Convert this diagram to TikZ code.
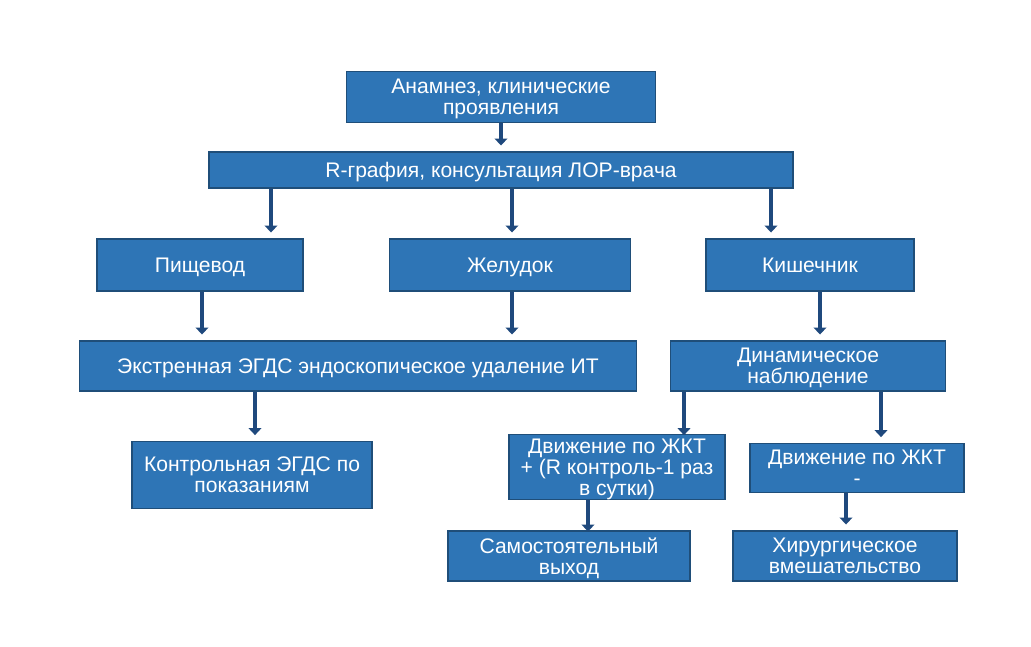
\documentclass[tikz,border=0pt]{standalone}
\usepackage{fontspec}
\setmainfont{Liberation Sans}
\usepackage{xcolor}
\usetikzlibrary{arrows.meta, positioning}

\definecolor{boxblue}{HTML}{2E75B6}
\definecolor{boxedge}{HTML}{1F4E79}
\definecolor{arrblue}{HTML}{1F497D}

\begin{document}
\begin{tikzpicture}[x=0.025cm, y=-0.025cm,
    block/.style={rectangle, draw=boxedge, line width=1.2pt, fill=boxblue, text=white, align=center, inner sep=0pt, text depth=-1pt, font=\fontsize{15}{15}\selectfont},
    arr/.style={draw=arrblue, line width=2.8pt, -{Triangle[width=9pt, length=5pt]}, shorten >=4pt}
]
\useasboundingbox (0,0) rectangle (1031,646);

\node[block, minimum width=7.72cm, minimum height=1.27cm] (anamnez) at (501,97) {Анамнез, клинические\\проявления};
\node[block, minimum width=14.6cm, minimum height=0.9cm] (rgraf) at (501,170) {R-графия, консультация ЛОР-врача};
\node[block, minimum width=5.15cm, minimum height=1.3cm] (pishevod) at (200,265) {Пищевод};
\node[block, minimum width=6.02cm, minimum height=1.3cm] (zheludok) at (510,265) {Желудок};
\node[block, minimum width=5.2cm, minimum height=1.3cm] (kishechnik) at (810,265) {Кишечник};
\node[block, minimum width=13.92cm, minimum height=1.25cm] (egds) at (358,366) {Экстренная ЭГДС эндоскопическое удаление ИТ};
\node[block, minimum width=6.87cm, minimum height=1.25cm] (dinam) at (808,366) {Динамическое\\наблюдение};
\node[block, minimum width=6cm, minimum height=1.67cm] (kontrol) at (252,475) {Контрольная ЭГДС по\\показаниям};
\node[block, minimum width=5.4cm, minimum height=1.62cm] (dvplus) at (617,467) {Движение по ЖКТ\\+ (R контроль-1 раз\\в сутки)};
\node[block, minimum width=5.35cm, minimum height=1.22cm] (dvminus) at (857,468) {Движение по ЖКТ\\-};
\node[block, minimum width=6.05cm, minimum height=1.25cm] (vyhod) at (569,556) {Самостоятельный\\выход};
\node[block, minimum width=5.6cm, minimum height=1.25cm] (hirurg) at (845,556) {Хирургическое\\вмешательство};

\draw[arr] (anamnez) -- (rgraf);
\draw[arr] (rgraf.south -| 271,0) -- (pishevod.north -| 271,0);
\draw[arr] (rgraf.south -| 512,0) -- (zheludok.north -| 512,0);
\draw[arr] (rgraf.south -| 771,0) -- (kishechnik.north -| 771,0);
\draw[arr] (pishevod.south -| 202,0) -- (egds.north -| 202,0);
\draw[arr] (zheludok.south -| 512,0) -- (egds.north -| 512,0);
\draw[arr] (kishechnik.south -| 820,0) -- (dinam.north -| 820,0);
\draw[arr] (egds.south -| 255,0) -- (kontrol.north -| 255,0);
\draw[arr, shorten >=-1pt] (dinam.south -| 684,0) -- (dvplus.north -| 684,0);
\draw[arr] (dinam.south -| 881,0) -- (dvminus.north -| 881,0);
\draw[arr, shorten >=-1pt] (dvplus.south -| 588,0) -- (vyhod.north -| 588,0);
\draw[arr] (dvminus.south -| 846,0) -- (hirurg.north -| 846,0);

\end{tikzpicture}
\end{document}
